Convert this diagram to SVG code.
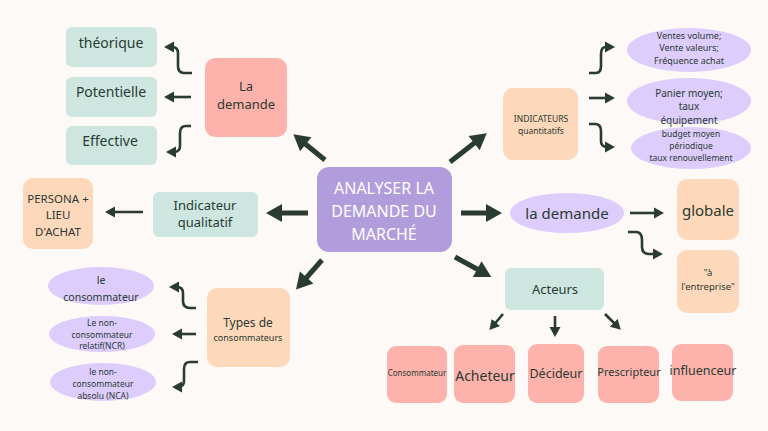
<svg xmlns="http://www.w3.org/2000/svg" width="768" height="431" viewBox="0 0 768 431">
<style>
text{font-family:"Noto Sans","Liberation Sans",sans-serif;fill:#2b3a33;text-anchor:middle;dominant-baseline:central}
.mint{fill:#cde7e0}.pink{fill:#fdb3ab}.peach{fill:#fdd8ba}.lav{fill:#dccdfc}.main{fill:#b19cdc}
.thick{stroke:#2a3b32;stroke-width:5;fill:none;marker-end:url(#big)}
.thin{stroke:#2a3b32;stroke-width:2.6;fill:none;marker-end:url(#small)}
</style>
<defs>
<marker id="big" markerUnits="userSpaceOnUse" markerWidth="20" markerHeight="20" refX="11" refY="10" orient="auto"><path d="M1,1 L17,10 L1,19 z" fill="#2a3b32"/></marker>
<marker id="small" markerUnits="userSpaceOnUse" markerWidth="12" markerHeight="12" refX="6" refY="6" orient="auto"><path d="M0,0.5 L10,6 L0,11.5 z" fill="#2a3b32"/></marker>
</defs>
<rect width="768" height="431" fill="#fdf9f6"/>
<g id="connectors">
<line class="thick" x1="325" y1="160" x2="298" y2="138"/>
<line class="thick" x1="308" y1="213" x2="272" y2="213"/>
<line class="thick" x1="322" y1="260" x2="300" y2="285"/>
<line class="thick" x1="450" y1="162" x2="482" y2="137"/>
<line class="thick" x1="461" y1="213" x2="496" y2="213"/>
<line class="thick" x1="455" y1="257" x2="486" y2="274"/>
<path class="thin" d="M192,73 L184,73 Q178,73 178,66 L178,53 Q178,47 172,47 L168,47"/>
<line class="thin" x1="191" y1="97" x2="168" y2="97"/>
<path class="thin" d="M191,126 L186,126 Q180,126 180,133 L180,146 Q180,152 174,152 L170,152"/>
<line class="thin" x1="143" y1="212" x2="109" y2="212"/>
<path class="thin" d="M196,308 L190,308 Q183,308 183,301 L183,293 Q183,287 177,287 L173,287"/>
<line class="thin" x1="196" y1="334" x2="176" y2="334"/>
<path class="thin" d="M198,362 L190,362 Q184,362 184,369 L184,381 Q184,387 178,387 L176,387"/>
<path class="thin" d="M589,73 L596,73 Q601,73 601,66 L601,54 Q601,47 606,47 L611,47"/>
<line class="thin" x1="589" y1="98" x2="611" y2="98"/>
<path class="thin" d="M589,124 L595,124 Q601,124 601,131 L601,141 Q601,147 607,147 L611,147"/>
<line class="thin" x1="630" y1="213" x2="660" y2="213"/>
<path class="thin" d="M628,232 L636,232 Q642,232 642,240 L642,247 Q642,254 649,254 L659,254"/>
<line class="thin" x1="503" y1="314" x2="492" y2="327"/>
<line class="thin" x1="555" y1="316" x2="555" y2="333"/>
<line class="thin" x1="605" y1="314" x2="618" y2="327"/>
</g>
<g id="center"><rect class="main" x="317" y="167" width="135" height="85" rx="12"/>
<text x="384" y="188" style="fill:#fff;font-size:16px">ANALYSER LA</text>
<text x="384" y="211" style="fill:#fff;font-size:16px">DEMANDE DU</text>
<text x="384" y="234" style="fill:#fff;font-size:16px">MARCHÉ</text></g>
<g id="la-demande"><rect class="pink" x="205" y="58" width="82" height="79" rx="10"/>
<text x="246" y="86" style="font-size:13px">La</text><text x="246" y="104" style="font-size:13px">demande</text></g>
<g id="theorique"><rect class="mint" x="66" y="27" width="91" height="40" rx="6"/><text x="111" y="42" style="font-size:14px">théorique</text></g>
<g id="potentielle"><rect class="mint" x="66" y="77" width="91" height="40" rx="6"/><text x="111" y="91" style="font-size:14px">Potentielle</text></g>
<g id="effective"><rect class="mint" x="66" y="126" width="91" height="39" rx="6"/><text x="110" y="140" style="font-size:14px">Effective</text></g>
<g id="indicateur-qualitatif"><rect class="mint" x="153" y="192" width="105" height="45" rx="6"/>
<text x="205" y="205" style="font-size:13px">Indicateur</text><text x="205" y="222" style="font-size:13px">qualitatif</text></g>
<g id="persona"><rect class="peach" x="23" y="178" width="70" height="71" rx="10"/>
<text x="58" y="198" style="font-size:11.5px">PERSONA +</text><text x="58" y="214" style="font-size:11.5px">LIEU</text><text x="58" y="231" style="font-size:11.5px">D'ACHAT</text></g>
<g id="types"><rect class="peach" x="207" y="288" width="83" height="79" rx="10"/>
<text x="248" y="322" style="font-size:12px">Types de</text><text x="248" y="337" style="font-size:9px">consommateurs</text></g>
<g id="le-consommateur"><ellipse class="lav" cx="101" cy="286" rx="53" ry="19"/>
<text x="101" y="280" style="font-size:10.5px">le</text><text x="101" y="297" style="font-size:10.5px">consommateur</text></g>
<g id="ncr"><ellipse class="lav" cx="102" cy="334" rx="53" ry="18"/>
<text x="102" y="322.5" style="font-size:8.5px">Le non-</text><text x="102" y="334" style="font-size:8.5px">consommateur</text><text x="102" y="345.5" style="font-size:8.5px">relatif(NCR)</text></g>
<g id="nca"><ellipse class="lav" cx="103" cy="382" rx="53" ry="19"/>
<text x="103" y="371" style="font-size:8.5px">le non-</text><text x="103" y="383" style="font-size:8.5px">consommateur</text><text x="103" y="395" style="font-size:8.5px">absolu (NCA)</text></g>
<g id="indicateurs-quantitatifs"><rect class="peach" x="503" y="88" width="75" height="72" rx="10"/>
<text x="541" y="118" style="font-size:8.5px">INDICATEURS</text><text x="541" y="130" style="font-size:8.5px">quantitatifs</text></g>
<g id="ventes"><ellipse class="lav" cx="689" cy="50" rx="62" ry="22"/>
<text x="689" y="35" style="font-size:9px">Ventes volume;</text><text x="689" y="47.5" style="font-size:9px">Vente valeurs;</text><text x="689" y="60" style="font-size:9px">Fréquence achat</text></g>
<g id="panier"><ellipse class="lav" cx="689" cy="101" rx="62" ry="23"/>
<text x="689" y="92.5" style="font-size:10px">Panier moyen;</text><text x="689" y="106" style="font-size:10px">taux</text><text x="689" y="119.5" style="font-size:10px">équipement</text></g>
<g id="budget"><ellipse class="lav" cx="691" cy="148" rx="60" ry="21"/>
<text x="691" y="133" style="font-size:8.5px">budget moyen</text><text x="691" y="145" style="font-size:8.5px">périodique</text><text x="691" y="157" style="font-size:8.5px">taux renouvellement</text></g>
<g id="la-demande-2"><ellipse class="lav" cx="567" cy="213" rx="57" ry="20"/><text x="567" y="213" style="font-size:15px">la demande</text></g>
<g id="globale"><rect class="peach" x="677" y="179" width="62" height="61" rx="10"/><text x="708" y="210" style="font-size:15px">globale</text></g>
<g id="entreprise"><rect class="peach" x="677" y="250" width="62" height="63" rx="10"/>
<text x="708" y="272" style="font-size:9.5px">"à</text><text x="708" y="286" style="font-size:9.5px">l'entreprise"</text></g>
<g id="acteurs"><rect class="mint" x="505" y="268" width="99" height="42" rx="6"/><text x="555" y="289" style="font-size:13px">Acteurs</text></g>
<g id="consommateur"><rect class="pink" x="387" y="346" width="60" height="57" rx="9"/><text x="417" y="372" style="font-size:8px">Consommateur</text></g>
<g id="acheteur"><rect class="pink" x="454" y="345" width="61" height="58" rx="9"/><text x="485" y="375" style="font-size:14px">Acheteur</text></g>
<g id="decideur"><rect class="pink" x="528" y="344" width="56" height="59" rx="9"/><text x="556" y="373" style="font-size:12.5px">Décideur</text></g>
<g id="prescripteur"><rect class="pink" x="598" y="346" width="61" height="57" rx="9"/><text x="629" y="371" style="font-size:11px">Prescripteur</text></g>
<g id="influenceur"><rect class="pink" x="672" y="344" width="61" height="57" rx="9"/><text x="703" y="370" style="font-size:12.5px">influenceur</text></g>
</svg>
